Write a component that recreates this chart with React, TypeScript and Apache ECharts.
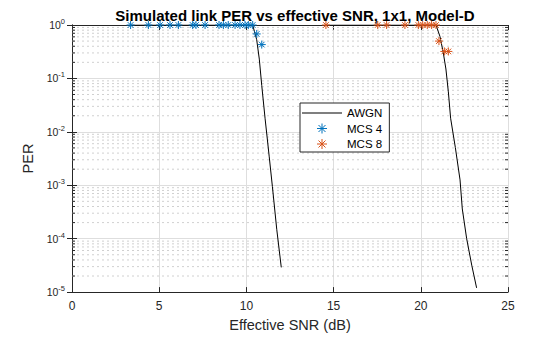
import React, { useEffect, useRef } from "react";
import * as echarts from "echarts";

const titleText = "Simulated link PER vs effective SNR, 1x1, Model-D";
const xName = "Effective SNR (dB)";
const yName = "PER";
const xMin = 0;
const xMax = 25;
const xStep = 5;
const yMin = 1e-5;
const yMax = 1;
const minorMultipliers = [2, 3, 4, 5, 6, 7, 8, 9];
const minorDecades = [1e-5, 1e-4, 1e-3, 1e-2, 1e-1];

// MCS 4 simulated points
const mcs4Snr = [3.36, 4.38, 5.05, 5.62, 6.1, 6.92, 7.11, 7.63, 8.43, 8.68, 8.96, 9.35, 9.63, 9.92, 10.11, 10.36, 10.59, 10.88];
const mcs4Per = [1, 1, 1, 1, 1, 1, 1, 1, 1, 1, 1, 1, 1, 1, 1, 1, 0.68, 0.43];

// MCS 8 simulated points
const mcs8Snr = [14.56, 17.53, 18.04, 19.09, 19.86, 20.11, 20.37, 20.62, 20.87, 21.04, 21.35, 21.58];
const mcs8Per = [1, 1, 1, 1, 1, 1, 1, 1, 1, 0.5, 0.32, 0.32];

// AWGN reference curves
const awgn4Snr = [3.36, 10.36, 10.59, 10.74, 10.88, 11.07, 11.31, 11.49, 11.74, 12.0];
const awgn4Per = [1, 1, 0.53, 0.23, 0.074, 0.018, 3.4e-3, 9.5e-4, 1.5e-4, 2.9e-5];
const awgn8Snr = [14.56, 20.87, 21.1, 21.29, 21.44, 21.58, 21.71, 21.98, 22.25, 22.38, 22.63, 22.92, 23.2];
const awgn8Per = [1, 1, 0.61, 0.3, 0.15, 0.056, 0.018, 5.1e-3, 1.26e-3, 3.6e-4, 1e-4, 3.2e-5, 1.2e-5];

const zip = (a: number[], b: number[]) => a.map((v, i) => [v, b[i]]);

const axisColor = "#262626";
const blue = "#0072BD";
const orange = "#D95319";
const star = "path://M5,0L5,10M0,5L10,5M1.5,1.5L8.5,8.5M1.5,8.5L8.5,1.5";
const lineIcon = "path://M0,0L40,0L40,1L0,1Z";
const font = "Arial, 'Liberation Sans', Helvetica, sans-serif";

export default function App() {
  const ref = useRef<HTMLDivElement>(null);
  useEffect(() => {
    const chart = echarts.init(ref.current!, null, { renderer: "svg" });
    const minorVals: number[][] = [];
    minorDecades.forEach((d) => minorMultipliers.forEach((m) => minorVals.push([xMin, d * m])));

    const yLabel = {
      show: true,
      margin: 7,
      formatter: (v: number) => `{b|10}{s|${Math.round(Math.log10(v))}}`,
      rich: {
        b: { fontSize: 10.5, color: axisColor, fontFamily: font },
        s: { fontSize: 7.5, color: axisColor, fontFamily: font, padding: [0, 0, 7, 0] },
      },
    };

    chart.setOption({
      animation: false,
      backgroundColor: "#ffffff",
      title: {
        text: titleText,
        left: 290,
        textAlign: "center",
        top: 3,
        textStyle: { fontSize: 15, fontWeight: "bold", color: "#000", fontFamily: font },
      },
      grid: { left: 72, right: 52, top: 25, bottom: 39, containLabel: false },
      legend: {
        orient: "vertical",
        left: 300,
        top: 103,
        itemWidth: 40,
        itemHeight: 10,
        itemGap: 1.5,
        padding: [3, 7, 1, 2],
        borderColor: "#262626",
        borderWidth: 1,
        backgroundColor: "#ffffff",
        textStyle: { fontSize: 11.5, color: "#000", fontFamily: font, lineHeight: 14 },
        data: [
          { name: "AWGN", icon: lineIcon, itemStyle: { color: "#000", borderWidth: 0 } },
          { name: "MCS 4", icon: star, itemStyle: { borderWidth: 1, borderColor: blue, color: blue } },
          { name: "MCS 8", icon: star, itemStyle: { borderWidth: 1, borderColor: orange, color: orange } },
        ],
      },
      xAxis: [
        {
          type: "value",
          min: xMin,
          max: xMax,
          interval: xStep,
          name: xName,
          nameLocation: "middle",
          nameGap: 21,
          nameTextStyle: { fontSize: 14.5, color: axisColor, fontFamily: font },
          axisLine: { show: true, lineStyle: { color: axisColor, width: 1 } },
          axisTick: { show: true, inside: true, length: 5, lineStyle: { color: axisColor } },
          axisLabel: { fontSize: 12, color: axisColor, fontFamily: font, margin: 8 },
          splitLine: { show: true, lineStyle: { color: "#dedede", width: 1 } },
        },
        {
          type: "value",
          position: "top",
          min: xMin,
          max: xMax,
          interval: xStep,
          axisLine: { show: true, lineStyle: { color: axisColor, width: 1 } },
          axisTick: { show: true, inside: true, length: 5, lineStyle: { color: axisColor } },
          axisLabel: { show: false },
          splitLine: { show: false },
        },
      ],
      yAxis: [
        {
          type: "log",
          logBase: 10,
          min: yMin,
          max: yMax,
          name: yName,
          nameLocation: "middle",
          nameGap: 35,
          nameTextStyle: { fontSize: 14.5, color: axisColor, fontFamily: font },
          axisLine: { show: true, lineStyle: { color: axisColor, width: 1 } },
          axisTick: { show: true, inside: true, length: 5, lineStyle: { color: axisColor } },
          axisLabel: yLabel,
          splitLine: { show: true, lineStyle: { color: "#dedede", width: 1 } },
        },
        {
          type: "log",
          logBase: 10,
          min: yMin,
          max: yMax,
          position: "right",
          axisLine: { show: true, lineStyle: { color: axisColor, width: 1 } },
          axisTick: { show: true, inside: true, length: 5, lineStyle: { color: axisColor } },
          axisLabel: { show: false },
          splitLine: { show: false },
        },
      ],
      series: [
        {
          type: "custom",
          name: "minor",
          silent: true,
          z: 1,
          clip: false,
          data: minorVals,
          renderItem: (params: any, api: any) => {
            const cs = params.coordSys;
            const y = api.coord([xMin, api.value(1)])[1];
            return {
              type: "group",
              children: [
                { type: "line", shape: { x1: cs.x, y1: y, x2: cs.x + cs.width, y2: y }, style: { stroke: "#d0d0d0", lineWidth: 1, lineDash: [2, 3] } },
                { type: "line", shape: { x1: cs.x, y1: y, x2: cs.x + 3, y2: y }, style: { stroke: axisColor, lineWidth: 1 } },
                { type: "line", shape: { x1: cs.x + cs.width - 3, y1: y, x2: cs.x + cs.width, y2: y }, style: { stroke: axisColor, lineWidth: 1 } },
              ],
            };
          },
        },
        {
          type: "line",
          name: "AWGN",
          z: 3,
          symbol: "none",
          data: zip(awgn4Snr, awgn4Per),
          lineStyle: { color: "#000", width: 1 },
          itemStyle: { color: "#000" },
        },
        {
          type: "line",
          name: "AWGN",
          z: 3,
          symbol: "none",
          data: zip(awgn8Snr, awgn8Per),
          lineStyle: { color: "#000", width: 1 },
          itemStyle: { color: "#000" },
        },
        {
          type: "scatter",
          name: "MCS 4",
          z: 4,
          symbol: star,
          symbolSize: 8,
          data: zip(mcs4Snr, mcs4Per),
          itemStyle: { color: blue, borderColor: blue, borderWidth: 1, opacity: 1 },
        },
        {
          type: "scatter",
          name: "MCS 8",
          z: 4,
          symbol: star,
          symbolSize: 8,
          data: zip(mcs8Snr, mcs8Per),
          itemStyle: { color: orange, borderColor: orange, borderWidth: 1, opacity: 1 },
        },
      ],
    });
    return () => chart.dispose();
  }, []);
  return <div ref={ref} style={{ position: "absolute", left: 0, top: 0, width: 560, height: 337 }} />;
}
